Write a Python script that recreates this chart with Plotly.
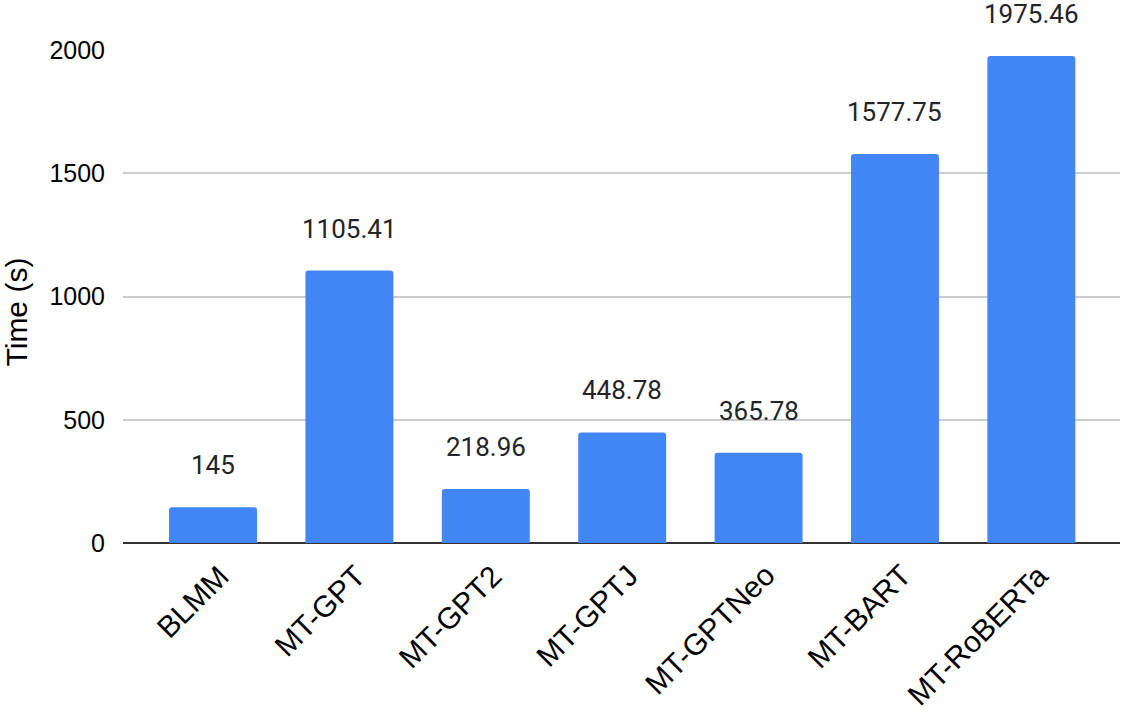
import plotly.graph_objects as go

categories = ["BLMM", "MT-GPT", "MT-GPT2", "MT-GPTJ", "MT-GPTNeo", "MT-BART", "MT-RoBERTa"]
times = [145, 1105.41, 218.96, 448.78, 365.78, 1577.75, 1975.46]
labels = ["145", "1105.41", "218.96", "448.78", "365.78", "1577.75", "1975.46"]
y_ticks = [0, 500, 1000, 1500, 2000]
y_title = "Time (s)"

SANS = "Liberation Sans"

fig = go.Figure()
fig.add_trace(go.Bar(
    x=categories, y=times,
    marker=dict(color="#4285F4", cornerradius=3, line=dict(width=0)),
    width=0.645,
    hoverinfo="skip",
))

# value labels above bars
for c, v, t in zip(categories, times, labels):
    fig.add_annotation(x=c, y=v, text=t, showarrow=False, yanchor="middle", yshift=42,
                       font=dict(family="Roboto", size=26, color="#222428"))

# rotated category labels
for c in categories:
    fig.add_annotation(x=c, y=0, text=c, showarrow=False, textangle=-45,
                       xanchor="right", yanchor="top", xshift=25, yshift=-13,
                       font=dict(family=SANS, size=30, color="#000000"))

# y axis title
fig.add_annotation(x=0, y=(543 - 312.5) / 493, xref="paper", yref="paper", text=y_title,
                   showarrow=False, textangle=-90, xanchor="center", yanchor="middle",
                   xshift=-107, font=dict(family=SANS, size=30, color="#000000"))

fig.update_layout(
    width=1125, height=713,
    margin=dict(l=123, r=5, t=50, b=170),
    paper_bgcolor="white", plot_bgcolor="white",
    showlegend=False,
    xaxis=dict(range=[-0.66, 6.65], showgrid=False, automargin=False,
               showticklabels=False, ticks="", showline=False),
    yaxis=dict(range=[0, 2000], tickvals=y_ticks, showgrid=True, gridcolor="#cccccc", gridwidth=1.5,
               zeroline=True, zerolinecolor="#333333", zerolinewidth=2, automargin=False,
               tickfont=dict(family=SANS, size=25, color="#000000"),
               ticklabelstandoff=17),
)

fig.write_html("out.html")
